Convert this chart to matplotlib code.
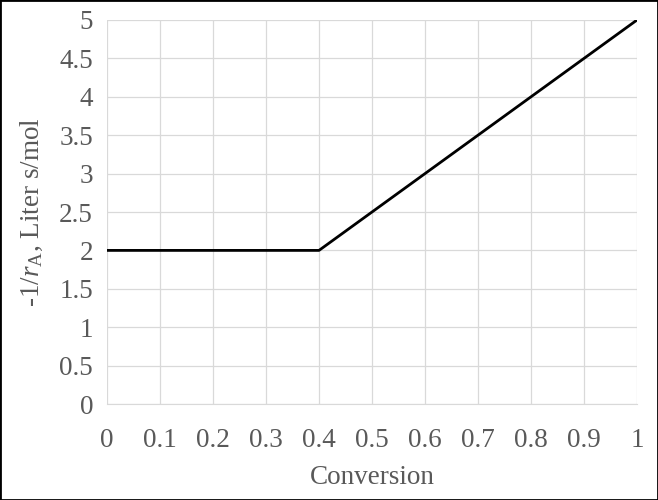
import matplotlib
matplotlib.use("Agg")
import matplotlib.pyplot as plt
from matplotlib.patches import Rectangle

conversion = [0.0, 0.4, 1.0]
inv_rate = [2.0, 2.0, 5.0]
x_ticks = [0, 0.1, 0.2, 0.3, 0.4, 0.5, 0.6, 0.7, 0.8, 0.9, 1]
y_ticks = [0, 0.5, 1, 1.5, 2, 2.5, 3, 3.5, 4, 4.5, 5]

plt.rcParams["font.family"] = "Liberation Serif"
plt.rcParams["mathtext.fontset"] = "custom"
plt.rcParams["mathtext.rm"] = "Liberation Serif"
plt.rcParams["mathtext.it"] = "Liberation Serif:italic"

text_col = "#595959"
grid_col = "#d9d9d9"

fig = plt.figure(figsize=(6.58, 5.0), dpi=100)
ax = fig.add_axes([0.1626, 0.192, 0.8055, 0.768])

ax.plot(conversion, inv_rate, color="black", linewidth=2.0, zorder=3)

ax.set_xlim(0, 1)
ax.set_ylim(0, 5)
ax.set_xticks(x_ticks)
ax.set_xticklabels([f"{t:g}" for t in x_ticks])
ax.set_yticks(y_ticks)
ax.set_yticklabels([f"{t:g}" for t in y_ticks])
ax.grid(True, color=grid_col, linewidth=0.9)
ax.set_axisbelow(True)
for s in ("top", "right", "left"):
    ax.spines[s].set_visible(False)
ax.spines["bottom"].set_color(grid_col)
ax.tick_params(axis="x", length=0, labelsize=19.5, labelcolor=text_col, pad=17)
ax.tick_params(axis="y", length=0, labelsize=19.5, labelcolor=text_col, pad=10)

ax.set_xlabel("Conversion", fontsize=19.5, color=text_col, labelpad=9)
ax.set_ylabel(r"-1/$\mathit{r}_\mathrm{A}$, Liter s/mol", fontsize=19.5,
              color=text_col, labelpad=10)

fig.patches.append(Rectangle((0, 0), 1, 1, transform=fig.transFigure,
                             fill=False, edgecolor="black", linewidth=2))

fig.savefig("out.png", dpi=100)
